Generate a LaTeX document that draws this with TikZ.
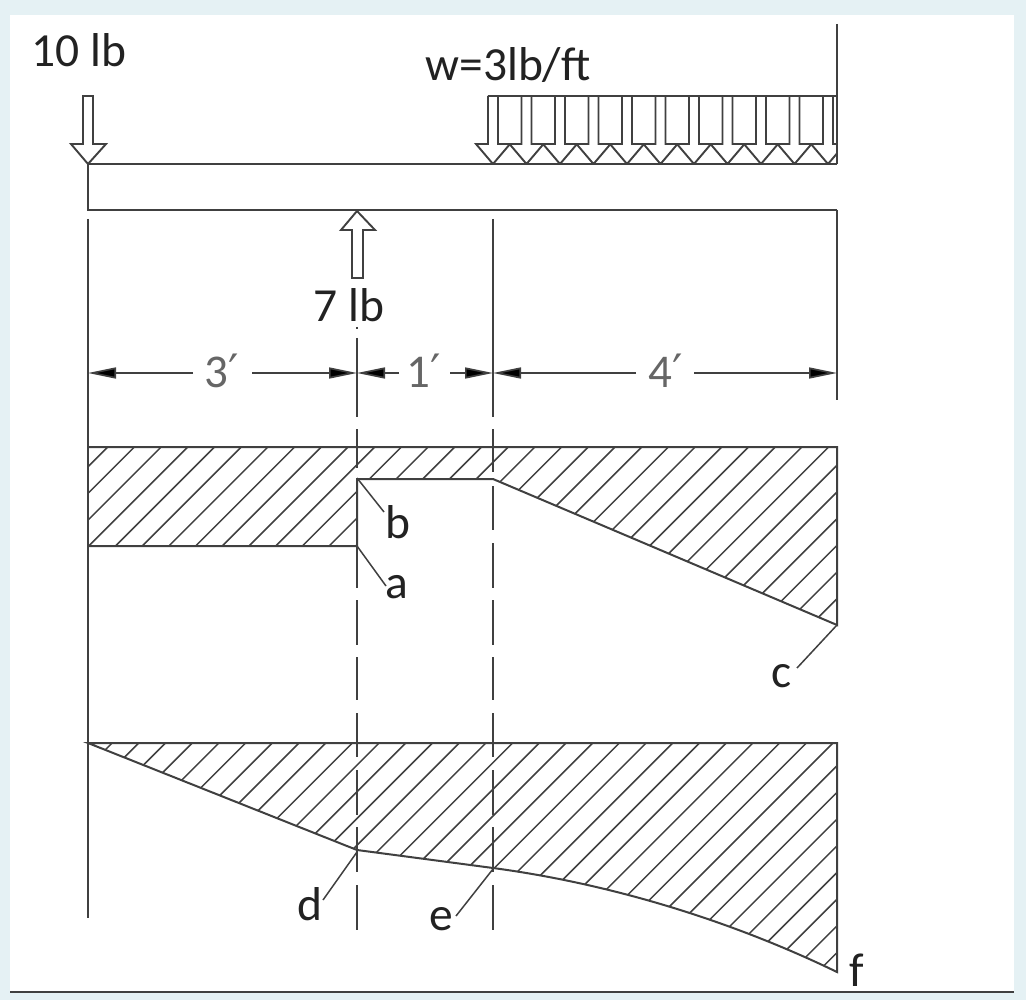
\documentclass[tikz,border=0pt]{standalone}
\usepackage{fontspec}
\setmainfont{Carlito}
\newfontfamily\primefont{DejaVu Sans}
\usetikzlibrary{arrows.meta}
\definecolor{pagebg}{HTML}{E5F1F4}
\definecolor{ink}{HTML}{404040}
\definecolor{txt}{HTML}{222222}
\definecolor{dimtxt}{HTML}{666666}
\newcommand{\primemark}{{\primefont\fontsize{46}{46}\selectfont ′}}
\tikzset{
  beamline/.style={draw=ink,line width=2pt,line join=miter},
  hatchline/.style={draw=ink,line width=1.5pt},
  leader/.style={draw=ink,line width=1.5pt},
  lbl/.style={font=\fontsize{47.5}{47.5}\selectfont,text=txt,anchor=base,inner sep=0pt},
  dimlbl/.style={font=\fontsize{47}{47}\selectfont,text=dimtxt,anchor=base,inner sep=0pt},
  dimline/.style={draw=ink,line width=1.7pt},
  dimtip/.style={dimline,-{Triangle[length=28pt,width=11pt,fill=black]}},
  loadarrow/.style={draw=ink,line width=1.9pt,line join=miter}
}
\begin{document}
\begin{tikzpicture}[x=1pt,y=-1pt]
\useasboundingbox (0,0) rectangle (1026,1000);
\fill[pagebg] (0,0) rectangle (1026,1000);
\fill[white] (10,15) rectangle (1014,992);
\coordinate (pl) at (10,992); \coordinate (pr) at (1014,992);
\draw[draw=ink,line width=1.8pt] (pl) -- (pr);
% text
\node[lbl] (t10) at (79,67) {10 lb};
\node[lbl] (tw) at (508,81) {w=3lb/ft};
\node[lbl] (t7) at (349,322) {7 lb};
\node[lbl] (ta) at (397,598) {a};
\node[lbl] (tb) at (398,538) {b};
\node[lbl] (tc) at (782,687) {c};
\node[lbl] (td) at (310,920) {d};
\node[lbl] (te) at (441,930) {e};
\node[lbl] (tf) at (857,986) {f};
\node[dimlbl] (d3) at (222,388) {3\primemark};
\node[dimlbl] (d1) at (424,388) {1\primemark};
\node[dimlbl] (d4) at (666,388) {4\primemark};
% beam
\coordinate (bl) at (88,164); \coordinate (br) at (837,164);
\coordinate (cl) at (88,210); \coordinate (cr) at (837,210);
\draw[beamline] (br) -- (bl) -- (cl) -- (cr);
\coordinate (rt) at (837,24); \draw[beamline] (rt) -- (br);
\coordinate (rb) at (837,400); \draw[beamline] (cr) -- (rb);
% vertical lines
\coordinate (lt) at (88,219); \coordinate (lb) at (88,918);
\draw[beamline] (lt) -- (lb);
\foreach \yy/\ye in {327/329,338/417,429/468,479/588,600/645,657/700,713/757,770/815,827/872,885/930}{
  \draw[beamline] (357,\yy) -- (357,\ye);
}
\foreach \yy/\ye in {219/417,429/472,486/530,543/588,600/645,657/700,713/757,770/815,827/872,885/930}{
  \draw[beamline] (493,\yy) -- (493,\ye);
}
% point arrows
\draw[loadarrow,fill=white] (83,96) -- (93,96) -- (93,144) -- (106,144) -- (88,164) -- (71,144) -- (83,144) -- cycle;
\draw[loadarrow,fill=white] (352,278) -- (363,278) -- (363,230) -- (375,230) -- (357,211) -- (341,230) -- (352,230) -- cycle;
% distributed load
\begin{scope}
\clip (470,90) rectangle (837,164);
\foreach \k in {0,...,10}{
  \pgfmathsetmacro{\t}{493+33.5*\k}
  \draw[loadarrow] (\t-5,96) -- (\t-5,144) -- (\t-17,144) -- (\t,164) -- (\t+17,144) -- (\t+5,144) -- (\t+5,96);
}
\foreach \k in {11}{
  \pgfmathsetmacro{\t}{493+33.5*\k}
  \draw[loadarrow] (\t-5,96) -- (\t-5,144) -- (\t-17,144) -- (\t,164);
}
\end{scope}
\coordinate (wl) at (488,96); \coordinate (wr) at (837,96);
\draw[loadarrow] (wl) -- (wr);
% dimension lines
\coordinate (dA) at (88,373); \coordinate (dB) at (357,373); \coordinate (dC) at (493,373); \coordinate (dD) at (837,373);
\coordinate (a1) at (193,373); \coordinate (a2) at (252,373);
\coordinate (a3) at (399,373); \coordinate (a4) at (450,373);
\coordinate (a5) at (636,373); \coordinate (a6) at (694,373);
\draw[dimtip] (a1) -- (dA);
\draw[dimtip] (a2) -- (dB);
\draw[dimtip] (a3) -- (dB);
\draw[dimtip] (a4) -- (dC);
\draw[dimtip] (a5) -- (dC);
\draw[dimtip] (a6) -- (dD);
% shear
\begin{scope}
\clip (88,447) -- (837,447) -- (837,625) -- (493,479) -- (357,479) -- (357,546) -- (88,546) -- cycle;
\foreach \k in {-10,...,30}{
  \draw[hatchline] ({348+26.7*\k},447) -- ({348+26.7*\k-400},847);
}
\end{scope}
\draw[beamline] (88,447) -- (837,447) -- (837,625) -- (493,479) -- (357,479) -- (357,546) -- (88,546);
% moment
\begin{scope}
\clip (88,743) -- (837,743) -- (837,972) .. controls (740,925) and (620,885) .. (493,868) -- (357,850) -- cycle;
\foreach \k in {-12,...,36}{
  \draw[hatchline] ({833-26.7*\k+240},503) -- ({833-26.7*\k-260},1003);
}
\end{scope}
\draw[beamline] (88,743) -- (837,743) -- (837,972) .. controls (740,925) and (620,885) .. (493,868) -- (357,850) -- cycle;
% leaders
\coordinate (pa) at (357,546); \coordinate (pb) at (357,478); \coordinate (pc) at (837,625);
\coordinate (pd) at (357,852); \coordinate (pe) at (493,869);
\coordinate (qa) at (386,586); \coordinate (qb) at (384,512); \coordinate (qc) at (797,668);
\coordinate (qd) at (323,900); \coordinate (qe) at (456,916);
\draw[leader] (pa) -- (qa);
\draw[leader] (pb) -- (qb);
\draw[leader] (pc) -- (qc);
\draw[leader] (pd) -- (qd);
\draw[leader] (pe) -- (qe);
\end{tikzpicture}
\end{document}
